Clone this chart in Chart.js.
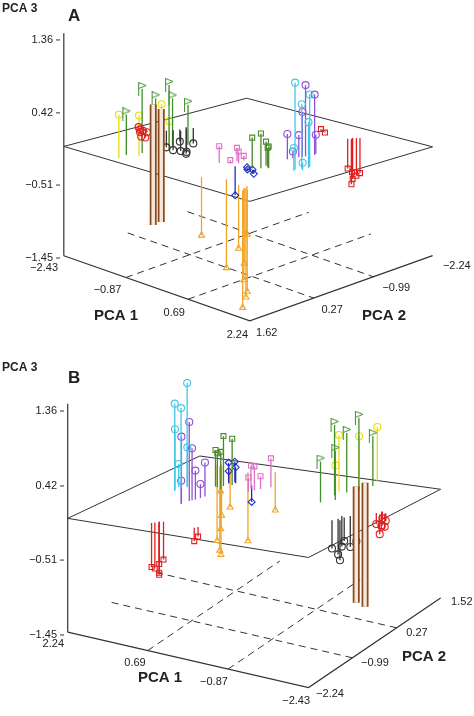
<!DOCTYPE html>
<html><head><meta charset="utf-8">
<script src="https://cdn.jsdelivr.net/npm/chart.js@4"></script>
<style>body{margin:0;background:#fff}div.p{position:absolute;left:0;width:474px;height:358px}</style>
</head><body>
<div class="p" style="top:0"><canvas id="cA" width="474" height="358"></canvas></div>
<div class="p" style="top:358px"><canvas id="cB" width="474" height="358"></canvas></div>
<script>
// ---- data (PCA scores) ----
const pc3Ticks=[1.36,0.42,-0.51,-1.45];
const pc1TicksA=[-2.43,-0.87,0.69,2.24];
const pc2TicksA=[1.62,0.27,-0.99,-2.24];
const pc1TicksB=[2.24,0.69,-0.87,-2.43];
const pc2TicksB=[-2.24,-0.99,0.27,1.52];

const yellowP1=[-1.25,-1.1,-0.95,-1.05], yellowP2=[1.45,1.15,0.8,0.55], yellowP3=[0.6,0.55,0.65,0.35];
const flagP1=[-1.3,-1.2,-1.1,-1.0,-1.15,-1.0], flagP2=[1.25,1.0,0.8,0.6,0.4,0.2], flagP3=[0.55,0.85,0.7,0.85,0.6,0.5];
const redCP1=[-2.3,-2.25,-2.2,-2.15,-2.25,-2.2,-2.3], redCP2=[0.15,0.1,0.18,0.1,0.05,0.2,0.12], redCP3=[-0.05,-0.1,-0.15,-0.1,-0.2,-0.05,-0.12];
const blackP1=[-1.9,-1.85,-1.8,-1.75,-1.7,-1.82,-1.72], blackP2=[-0.1,-0.2,-0.3,-0.4,-0.5,-0.45,-0.25], blackP3=[-0.3,-0.35,-0.25,-0.4,-0.3,-0.45,-0.35];
const orangeP1=[0.6,1.0,1.4,1.6,1.65,1.7,1.62,1.68,1.55], orangeP2=[1.26,1.07,1.15,1.2,1.25,1.22,1.18,1.3,1.1], orangeP3=[-0.7,-1.1,-0.75,-0.9,-1.1,-1.25,-1.35,-1.45,-0.55];
const blueP1=[0.54,0.85,0.9,0.95,1.0], blueP2=[0.5,0.5,0.55,0.45,0.52], blueP3=[-0.35,0.05,0.1,0.0,0.08];
const pinkP1=[0.2,0.3,0.35,0.45,0.4], pinkP2=[0.55,0.4,0.3,0.35,0.2], pinkP3=[0.25,0.05,0.2,0.18,0.08];
const greenP1=[0.85,0.95,1.0,0.9,1.05], greenP2=[0.4,0.3,0.2,0.15,0.22], greenP3=[0.45,0.5,0.3,0.35,0.33];
const purpleP1=[0.9,0.95,1.0,1.05,0.98,1.02,0.92], purpleP2=[-0.3,-0.5,-0.6,-0.75,-0.55,-0.8,-0.4], purpleP3=[0.35,0.3,0.95,0.8,0.6,0.25,0.1];
const cyanP1=[1.45,1.5,1.55,1.48,1.52,1.58], cyanP2=[0.0,-0.1,-0.2,0.05,-0.25,-0.05], cyanP3=[1.2,0.9,0.65,0.35,1.0,0.15];
const redSP1=[0.75,0.8,0.85,0.78,0.82,0.88,0.08,0.12], redSP2=[-1.7,-1.75,-1.8,-1.78,-1.72,-1.85,-1.7,-1.75], redSP3=[-0.45,-0.5,-0.55,-0.6,-0.65,-0.52,-0.05,-0.1];
const brownP1=[-1.85,-1.72], brownP2=[0.22,0.16], brownTop=[0.35,0.3], brownBottom=[-1.25,-1.2];

function flag(col){const c=document.createElement('canvas');c.width=10;c.height=14;const g=c.getContext('2d');
 g.strokeStyle=col;g.lineWidth=1;g.beginPath();g.moveTo(1.5,0);g.lineTo(1.5,14);g.stroke();
 g.beginPath();g.moveTo(1.5,0.5);g.lineTo(9,3.5);g.lineTo(1.5,6.5);g.stroke();return c;}

const groups=[
 {p1:yellowP1,p2:yellowP2,p3:yellowP3,col:'#e6e000',ps:'circle'},
 {p1:flagP1,p2:flagP2,p3:flagP3,col:'#3f8f2c',ps:'flag'},
 {p1:redCP1,p2:redCP2,p3:redCP3,col:'#e02020',ps:'circle'},
 {p1:blackP1,p2:blackP2,p3:blackP3,col:'#333333',ps:'circle'},
 {p1:orangeP1,p2:orangeP2,p3:orangeP3,col:'#f0a428',ps:'triangle'},
 {p1:blueP1,p2:blueP2,p3:blueP3,col:'#2030c0',ps:'rectRot'},
 {p1:pinkP1,p2:pinkP2,p3:pinkP3,col:'#e070c8',ps:'rect'},
 {p1:greenP1,p2:greenP2,p3:greenP3,col:'#4a8a2a',ps:'rect'},
 {p1:purpleP1,p2:purpleP2,p3:purpleP3,col:'#9050d8',ps:'circle'},
 {p1:cyanP1,p2:cyanP2,p3:cyanP3,col:'#40c8e8',ps:'circle'},
 {p1:redSP1,p2:redSP2,p3:redSP3,col:'#e02020',ps:'rect'}
];

const projA=(a,b,c)=>({x:60+40.7*(a+2.43)-48.4*(b-1.62),y:258+14.35*(a+2.43)+17.4*(b-1.62)-77.6*(c+1.45)});
const projB=(a,b,c)=>({x:64-52.7*(a-2.24)+35.9*(b+2.24),y:277-12.2*(a-2.24)-24.5*(b+2.24)-79.7*(c+1.45)});
const planeA=[0,0.135,-0.007,-0.226];
const planeB=[0.02,0.23,-0.045,-0.33];

function line(pts,col,w,dash){return {data:pts,showLine:true,borderColor:col,borderWidth:w,borderDash:dash||[],pointRadius:0,fill:false};}

function build(id,P,r1,r2,t1,t2,pz,lab){
 const ds=[];const z0=-1.45;
 const pZ=(a,b)=>{const u=(a-r1[0])/(r1[1]-r1[0]),v=(b-r2[0])/(r2[1]-r2[0]);
  return pz[0]*(1-u)*(1-v)+pz[1]*u*(1-v)+pz[2]*u*v+pz[3]*(1-u)*v;};
 t1.slice(1,3).forEach(v=>ds.push(line([P(v,r2[0],z0),P(v,r2[1],z0)],'#333',1,[7,5])));
 t2.slice(1,3).forEach(v=>ds.push(line([P(r1[0],v,z0),P(r1[1],v,z0)],'#333',1,[7,5])));
 ds.push(line([P(r1[0],r2[0],z0),P(r1[1],r2[0],z0),P(r1[1],r2[1],z0)],'#333',1.2));
 ds.push(line([P(r1[0],r2[0],z0),P(r1[0],r2[0],1.5)],'#333',1.2));
 ds.push(line([P(r1[0],r2[0],pz[0]),P(r1[1],r2[0],pz[1]),P(r1[1],r2[1],pz[2]),P(r1[0],r2[1],pz[3]),P(r1[0],r2[0],pz[0])],'#333',1));
 groups.forEach(g=>{const mk=[];
  g.p1.forEach((v,i)=>{ds.push(line([P(v,g.p2[i],pZ(v,g.p2[i])),P(v,g.p2[i],g.p3[i])],g.col,1.3));mk.push(P(v,g.p2[i],g.p3[i]));});
  ds.push({data:mk,showLine:false,pointStyle:g.ps==='flag'?flag(g.col):g.ps,pointRadius:3.5,
   pointBorderColor:g.col,pointBackgroundColor:'rgba(255,255,255,0)',pointBorderWidth:1.1});
 });
 brownP1.forEach((v,i)=>{const pts=[P(v,brownP2[i],brownTop[i]),P(v,brownP2[i],brownBottom[i])];
  ds.push(line(pts,'#8a4a20',7));ds.push(line(pts,'#f6e6d8',3.5));});
 ds.reverse();
 const fmt=v=>v.toFixed(2).replace('-','\u2212');
 const textPlug={id:'t',afterDraw(ch){const c=ch.ctx;c.save();c.fillStyle='#222';c.strokeStyle='#333';
  c.font='11px "Liberation Sans", Arial';c.textBaseline='middle';
  pc3Ticks.forEach(v=>{const p=P(r1[0],r2[0],v);c.textAlign='right';c.fillText(fmt(v),p.x-7,p.y);
   c.beginPath();c.moveTo(p.x-4,p.y);c.lineTo(p.x,p.y);c.stroke();});
  t1.forEach(v=>{const p=P(v,r2[0],z0);c.textAlign='right';c.fillText(fmt(v),p.x+lab.o1[0],p.y+lab.o1[1]);});
  t2.forEach(v=>{const p=P(r1[1],v,z0);c.textAlign='left';c.fillText(fmt(v),p.x+lab.o2[0],p.y+lab.o2[1]);});
  c.font='bold 12px "Liberation Sans", Arial';c.textAlign='left';c.fillText('PCA 3',2,lab.t3);
  c.font='bold 17px "Liberation Sans", Arial';c.fillText(lab.L,68,lab.tL);
  c.font='bold 15px "Liberation Sans", Arial';c.fillText('PCA 1',lab.a1[0],lab.a1[1]);c.fillText('PCA 2',lab.a2[0],lab.a2[1]);
  c.restore();}};
 new Chart(document.getElementById(id),{type:'scatter',data:{datasets:ds},plugins:[textPlug],
  options:{responsive:false,animation:false,layout:{padding:0},plugins:{legend:{display:false},tooltip:{enabled:false}},
   scales:{x:{type:'linear',min:0,max:474,display:false},y:{type:'linear',min:0,max:358,reverse:true,display:false}}}});
}
build('cA',projA,[-2.43,2.24],[1.62,-2.24],pc1TicksA,pc2TicksA,planeA,{L:'A',t3:9,tL:16,o1:[-2,10],o2:[6,8],a1:[94,316],a2:[362,316]});
build('cB',projB,[2.24,-2.43],[-2.24,1.52],pc1TicksB,pc2TicksB,planeB,{L:'B',t3:10,tL:20,o1:[0,9],o2:[6,2],a1:[138,320],a2:[402,299]});
</script></body></html>
